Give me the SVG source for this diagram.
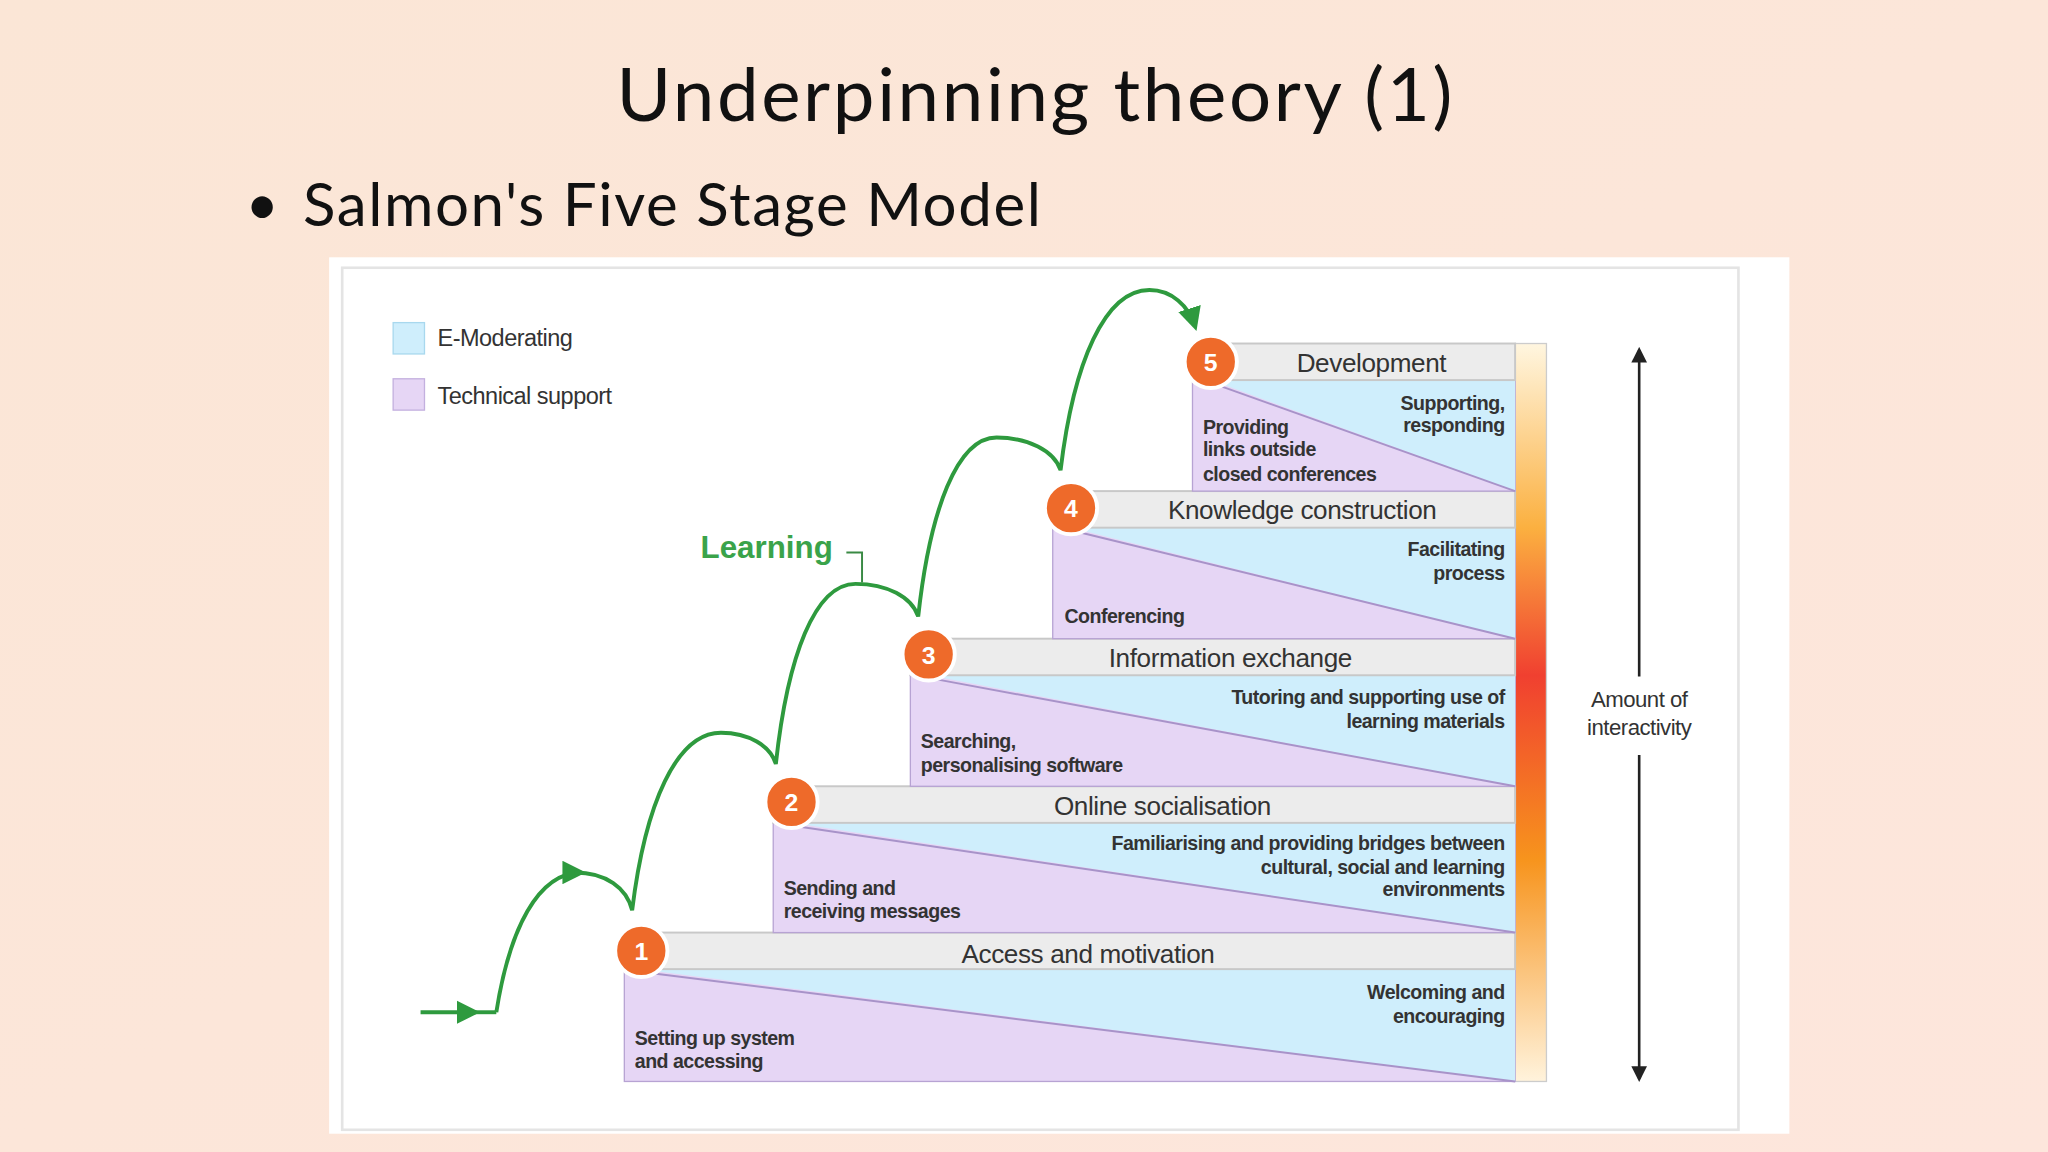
<svg xmlns="http://www.w3.org/2000/svg" width="2048" height="1152" viewBox="0 0 2048 1152">
<defs>
<linearGradient id="bg" x1="0" y1="0" x2="1" y2="1"><stop offset="0" stop-color="#fbe6d6"/><stop offset="1" stop-color="#fde6dc"/></linearGradient>
<linearGradient id="heat" x1="0" y1="0" x2="0" y2="1"><stop offset="0" stop-color="#fff6e0"/><stop offset="0.25" stop-color="#fbb040"/><stop offset="0.45" stop-color="#f04030"/><stop offset="0.7" stop-color="#f7941d"/><stop offset="1" stop-color="#fff3dc"/></linearGradient>
<marker id="ga" viewBox="0 0 10 10" refX="8" refY="5" markerWidth="6" markerHeight="6" orient="auto-start-reverse"><path d="M0,0 L10,5 L0,10 z" fill="#2e9a3e"/></marker>
<marker id="ka" viewBox="0 0 10 10" refX="8" refY="5" markerWidth="6" markerHeight="6" orient="auto-start-reverse"><path d="M0,0 L10,5 L0,10 z" fill="#222"/></marker>
</defs>
<style>
.t{font-family:"Liberation Sans",Arial,sans-serif;fill:#333;font-size:15px;font-weight:bold;letter-spacing:-0.4px}
.r{text-anchor:end}
.h{font-family:"Liberation Sans",Arial,sans-serif;fill:#333;font-size:20px;text-anchor:middle;letter-spacing:-0.3px}
.hdr{fill:#ececec;stroke:#c8c8c8;stroke-width:1.5}
.pu{fill:#e6d6f5;stroke:#b7a3d3;stroke-width:1}
.bl{fill:#cfeefc}
.dg{stroke:#a893c9;stroke-width:1.5;fill:none}
.c{fill:#ee6a2a;stroke:#fff;stroke-width:3}
.cn{font-family:"Liberation Sans",Arial,sans-serif;fill:#fff;font-size:19px;font-weight:bold;text-anchor:middle}
.g{fill:none;stroke:#2e9a3e;stroke-width:3}
</style>
<rect width="2048" height="1152" fill="url(#bg)"/>
<g transform="scale(1.30612)">
<text x="793" y="93" font-family="Lato,'Open Sans',sans-serif" font-size="57" letter-spacing="2" text-anchor="middle" fill="#111">Underpinning theory (1)</text>
<text x="188" y="172" font-family="Lato,'Open Sans',sans-serif" font-size="44" fill="#111">•</text>
<text x="232" y="173" font-family="Lato,'Open Sans',sans-serif" font-size="46" letter-spacing="1.2" fill="#111">Salmon's Five Stage Model</text>
<rect x="252" y="197" width="1118" height="671" fill="#fff"/>
<rect x="262" y="205" width="1069" height="660" fill="none" stroke="#e4e4e4" stroke-width="2"/>
<g id="legend">
<rect x="301" y="247" width="24" height="24" fill="#cfeefc" stroke="#a8d8ee"/>
<text class="t" x="335" y="265" style="font-weight:normal;font-size:18px">E-Moderating</text>
<rect x="301" y="290" width="24" height="24" fill="#e6d6f5" stroke="#c3b0df"/>
<text class="t" x="335" y="309" style="font-weight:normal;font-size:18px">Technical support</text>
</g>
<rect x="1160" y="263" width="24" height="565" fill="url(#heat)" stroke="#ccc"/>
<g id="stage1">
<rect class="pu" x="478" y="742" width="682" height="86"/>
<polygon class="bl" points="490,742 1160,742 1160,828"/>
<line class="dg" x1="490" y1="744" x2="1160" y2="828"/>
<rect class="hdr" x="478" y="714" width="682" height="28"/>
<text class="h" x="833" y="737">Access and motivation</text>
<text class="t r" x="1152" y="765">Welcoming and</text><text class="t r" x="1152" y="783">encouraging</text>
<text class="t" x="486" y="800">Setting up system</text><text class="t" x="486" y="818">and accessing</text>
<circle class="c" cx="491" cy="728" r="20"/><text class="cn" x="491" y="735">1</text>
</g>
<g id="stage2">
<rect class="pu" x="592" y="630" width="568" height="84"/>
<polygon class="bl" points="606,630 1160,630 1160,714"/>
<line class="dg" x1="606" y1="632" x2="1160" y2="714"/>
<rect class="hdr" x="592" y="602" width="568" height="28"/>
<text class="h" x="890" y="624">Online socialisation</text>
<text class="t r" x="1152" y="651">Familiarising and providing bridges between</text><text class="t r" x="1152" y="669">cultural, social and learning</text><text class="t r" x="1152" y="686">environments</text>
<text class="t" x="600" y="685">Sending and</text><text class="t" x="600" y="703">receiving messages</text>
<circle class="c" cx="606" cy="614" r="20"/><text class="cn" x="606" y="621">2</text>
</g>
<g id="stage3">
<rect class="pu" x="697" y="517" width="463" height="85"/>
<polygon class="bl" points="711,517 1160,517 1160,602"/>
<line class="dg" x1="711" y1="519" x2="1160" y2="602"/>
<rect class="hdr" x="697" y="489" width="463" height="28"/>
<text class="h" x="942" y="511">Information exchange</text>
<text class="t r" x="1152" y="539">Tutoring and supporting use of</text><text class="t r" x="1152" y="557">learning materials</text>
<text class="t" x="705" y="573">Searching,</text><text class="t" x="705" y="591">personalising software</text>
<circle class="c" cx="711" cy="501" r="20"/><text class="cn" x="711" y="508">3</text>
</g>
<g id="stage4">
<rect class="pu" x="806" y="404" width="354" height="85"/>
<polygon class="bl" points="820,404 1160,404 1160,489"/>
<line class="dg" x1="820" y1="406" x2="1160" y2="489"/>
<rect class="hdr" x="806" y="376" width="354" height="28"/>
<text class="h" x="997" y="397">Knowledge construction</text>
<text class="t r" x="1152" y="426">Facilitating</text><text class="t r" x="1152" y="444">process</text>
<text class="t" x="815" y="477">Conferencing</text>
<circle class="c" cx="820" cy="389" r="20"/><text class="cn" x="820" y="396">4</text>
</g>
<g id="stage5">
<rect class="pu" x="913" y="291" width="247" height="85"/>
<polygon class="bl" points="927,291 1160,291 1160,376"/>
<line class="dg" x1="927" y1="293" x2="1160" y2="376"/>
<rect class="hdr" x="913" y="263" width="247" height="28"/>
<text class="h" x="1050" y="285">Development</text>
<text class="t r" x="1152" y="314">Supporting,</text><text class="t r" x="1152" y="331">responding</text>
<text class="t" x="921" y="332">Providing</text><text class="t" x="921" y="349">links outside</text><text class="t" x="921" y="368">closed conferences</text>
<circle class="c" cx="927" cy="277" r="20"/><text class="cn" x="927" y="284">5</text>
</g>
<g id="axis">
<line x1="1255" y1="268" x2="1255" y2="518" stroke="#222" stroke-width="2" marker-start="url(#ka)"/>
<line x1="1255" y1="578" x2="1255" y2="826" stroke="#222" stroke-width="2" marker-end="url(#ka)"/>
<text class="t" x="1255" y="541" text-anchor="middle" style="font-weight:normal;font-size:17px">Amount of</text>
<text class="t" x="1255" y="563" text-anchor="middle" style="font-weight:normal;font-size:17px">interactivity</text>
</g>
<g id="connectors">
<line class="g" x1="322" y1="775" x2="364" y2="775" marker-end="url(#ga)"/>
<line class="g" x1="360" y1="775" x2="380" y2="775"/>
<path class="g" d="M380,775 C390,711 412,668 445,668" marker-end="url(#ga)"/>
<path class="g" d="M440,668 C464,668 480,680 484,697 C494,615 518,561 552,561 C573,561 590,571 594,585 C603,502 624,447 655,447 C679,447 698,457 703,472 C712,390 733,335 763,335 C787,335 807,345 812,360 C822,277 846,222 880,222 C897,222 910,234 915,250" marker-end="url(#ga)"/>
<path d="M648,423 L660,423 L660,446" fill="none" stroke="#3a8a44" stroke-width="1.5"/>
<text x="587" y="427" font-family="'Liberation Sans',Arial,sans-serif" font-size="24" font-weight="bold" fill="#3aa34a" text-anchor="middle">Learning</text>
</g>
</g>
</svg>
